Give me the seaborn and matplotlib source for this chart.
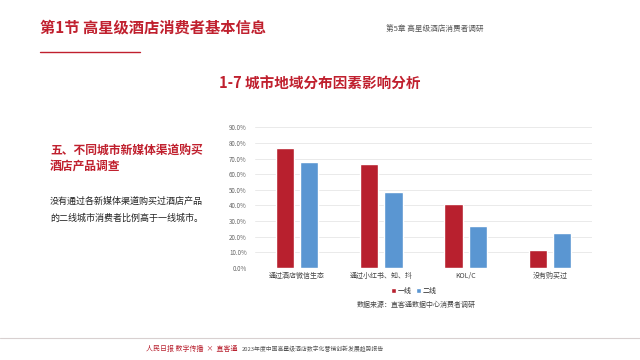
import pandas as pd
import matplotlib
matplotlib.use('Agg')
import matplotlib.pyplot as plt
import seaborn as sns
from matplotlib.ticker import FuncFormatter

# chart data
channels = ['通过酒店微信生态', '通过小红书、知、抖', 'KOL/C', '没有购买过']
tier1 = [77.0, 66.3, 41.1, 11.7]
tier2 = [67.6, 48.8, 27.1, 22.4]
series_names = ['一线', '二线']
y_ticks = [0, 10, 20, 30, 40, 50, 60, 70, 80, 90]

df = pd.DataFrame({
    'channel': channels * 2,
    'share': tier1 + tier2,
    'city': [series_names[0]] * 4 + [series_names[1]] * 4,
})

sns.set_theme(style='white')
plt.rcParams['font.family'] = ['Noto Sans CJK SC', 'DejaVu Sans']

red = '#B8202E'
blue = '#5A96D2'

fig = plt.figure(figsize=(6.4, 3.6), dpi=100)
fig.patch.set_facecolor('white')

# header
fig.text(40 / 640, 1 - 27 / 360, '第1节 高星级酒店消费者基本信息', color='#C0202E',
         fontsize=11, fontweight='bold', va='center', ha='left')
fig.add_artist(plt.Line2D([40 / 640, 140 / 640], [1 - 52 / 360] * 2, color='#C0202E', lw=1))
fig.text(484 / 640, 1 - 30 / 360, '第5章 高星级酒店消费者调研', color='#555555',
         fontsize=5.5, va='center', ha='right')
fig.text(320 / 640, 1 - 84 / 360, '1-7 城市地域分布因素影响分析', color='#C0202E',
         fontsize=10.5, fontweight='bold', va='center', ha='center')

# left text block
fig.text(50 / 640, 1 - 150 / 360, '五、不同城市新媒体渠道购买', color='#C0202E',
         fontsize=8.5, fontweight='bold', va='center', ha='left')
fig.text(50 / 640, 1 - 166 / 360, '酒店产品调查', color='#C0202E',
         fontsize=8.5, fontweight='bold', va='center', ha='left')
fig.text(50 / 640, 1 - 201 / 360, '没有通过各新媒体渠道购买过酒店产品', color='#222222',
         fontsize=6.5, va='center', ha='left')
fig.text(50 / 640, 1 - 218 / 360, '的二线城市消费者比例高于一线城市。', color='#222222',
         fontsize=6.5, va='center', ha='left')

# chart
ax = fig.add_axes([255 / 640, 1 - 268 / 360, 337 / 640, (268 - 127.3) / 360])
sns.barplot(data=df, x='channel', y='share', hue='city', palette=[red, blue],
            width=0.57, gap=0.24, saturation=1, ax=ax, legend=True)
ax.set_ylim(0, 90)
ax.set_yticks(y_ticks)
ax.yaxis.set_major_formatter(FuncFormatter(lambda v, p: f'{v:.1f}%'))
ax.grid(axis='y', color='#E6E6E6', lw=0.6)
ax.set_axisbelow(True)
for s in ax.spines.values():
    s.set_visible(False)
ax.tick_params(axis='y', labelsize=4.5, labelcolor='#666666', length=0, pad=6)
ax.tick_params(axis='x', labelsize=5, labelcolor='#444444', length=0, pad=3)
ax.set_xlabel('')
ax.set_ylabel('')
ax.legend(loc='center', bbox_to_anchor=(414 / 640, 1 - 291 / 360), bbox_transform=fig.transFigure,
          ncol=2, frameon=False, fontsize=5, handlelength=0.7, handleheight=0.7,
          handletextpad=0.3, columnspacing=0.6)

fig.text(416 / 640, 1 - 305 / 360, '数据来源：直客通数据中心消费者调研', color='#444444',
         fontsize=5, va='center', ha='center')

# footer
fig.add_artist(plt.Line2D([0, 1], [1 - 338 / 360] * 2, color='#D8D0D0', lw=0.8))
fig.text(192 / 640, 1 - 349 / 360, '人民日报 数字传播  ×  直客通', color='#B8202E',
         fontsize=5, va='center', ha='center')
fig.text(313 / 640, 1 - 349 / 360, '2023年度中国高星级酒店数字化营销创新发展趋势报告', color='#555555',
         fontsize=4.2, va='center', ha='center')

fig.savefig('out.png', dpi=100)
